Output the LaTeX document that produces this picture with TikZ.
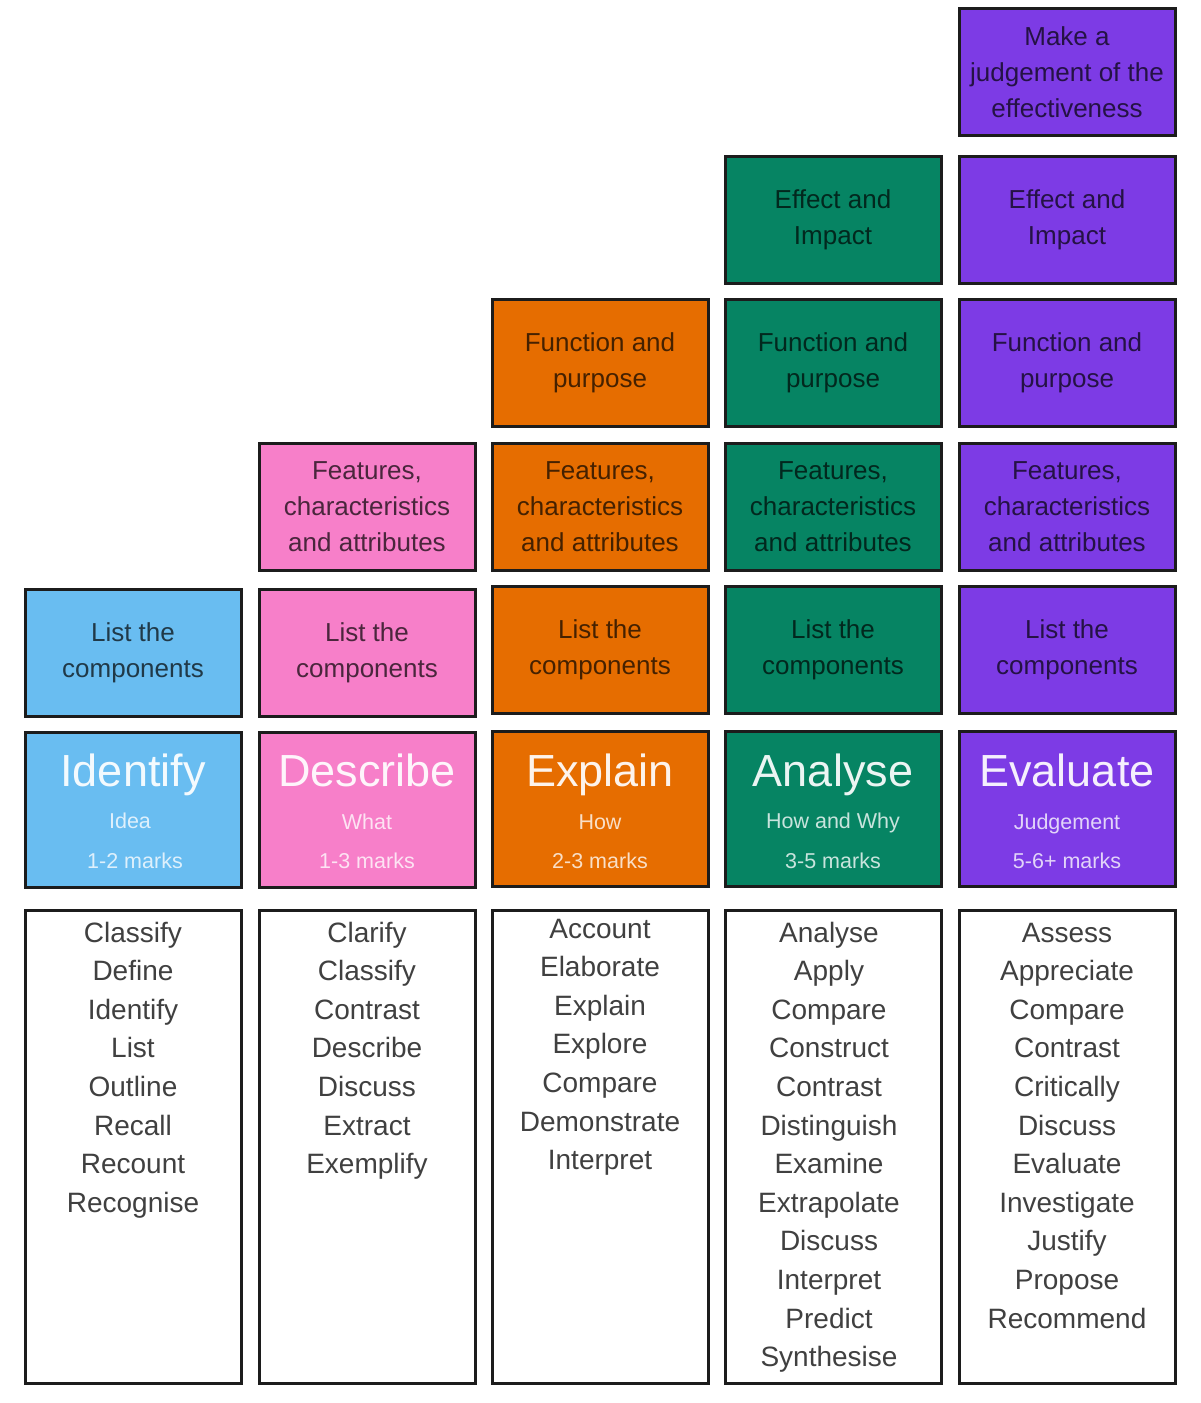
\documentclass[tikz,border=0pt]{standalone}
\usepackage{fontspec}
\setmainfont{Liberation Sans}
\definecolor{cblue}{HTML}{69BDF1}
\definecolor{cpink}{HTML}{F77FC9}
\definecolor{corange}{HTML}{E66D00}
\definecolor{cgreen}{HTML}{068463}
\definecolor{cpurple}{HTML}{7D3BE5}
\definecolor{edgec}{HTML}{1C1C1C}
\definecolor{wordc}{HTML}{404040}
\tikzset{
  cell/.style={draw=edgec, line width=3pt, minimum width=216pt, minimum height=127pt,
    inner sep=0pt, align=center, font=\fontsize{26}{36}\selectfont},
  hdrbox/.style={draw=edgec, line width=3pt, minimum width=216pt, minimum height=155pt, inner sep=0pt},
  listbox/.style={draw=edgec, line width=3pt, fill=white, minimum width=216pt, minimum height=473pt, inner sep=0pt},
  hdrtitle/.style={font=\fontsize{45}{50}\selectfont, anchor=base, inner sep=0pt},
  hdrsub/.style={font=\fontsize{21.5}{24}\selectfont, anchor=base, inner sep=0pt},
  word/.style={font=\fontsize{28}{30}\selectfont, text=wordc, anchor=base, inner sep=0pt},
  blue/.style={fill=cblue, text=black!70!cblue},
  pink/.style={fill=cpink, text=black!70!cpink},
  orange/.style={fill=corange, text=black!70!corange},
  green/.style={fill=cgreen, text=black!70!cgreen},
  purple/.style={fill=cpurple, text=black!70!cpurple},
}
\begin{document}
\begin{tikzpicture}[x=1pt,y=-1pt]
\useasboundingbox[fill=white] (0,0) rectangle (1200,1403);

% column 5 (Evaluate) tower
\node[cell,purple] (e5) at (1067,72) {Make a\\judgement of the\\effectiveness};
\node[cell,purple] (d5) at (1067,219.5) {Effect and\\Impact};
\node[cell,purple] (c5) at (1067,362.5) {Function and\\purpose};
\node[cell,purple] (b5) at (1067,507) {Features,\\characteristics\\and attributes};
\node[cell,purple] (a5) at (1067,650) {List the\\components};

% column 4 (Analyse)
\node[cell,green] (d4) at (833,219.5) {Effect and\\Impact};
\node[cell,green] (c4) at (833,362.5) {Function and\\purpose};
\node[cell,green] (b4) at (833,507) {Features,\\characteristics\\and attributes};
\node[cell,green] (a4) at (833,650) {List the\\components};

% column 3 (Explain)
\node[cell,orange] (c3) at (600,362.5) {Function and\\purpose};
\node[cell,orange] (b3) at (600,507) {Features,\\characteristics\\and attributes};
\node[cell,orange] (a3) at (600,650) {List the\\components};

% column 2 (Describe)
\node[cell,pink] (b2) at (367,507) {Features,\\characteristics\\and attributes};
\node[cell,pink] (a2) at (367,652.5) {List the\\components};

% column 1 (Identify)
\node[cell,blue] (a1) at (133,652.5) {List the\\components};

% header row
\node[hdrbox,fill=cblue] (h1) at (133,810) {};
\node[hdrbox,fill=cpink] (h2) at (367,810) {};
\node[hdrbox,fill=corange] (h3) at (600,809) {};
\node[hdrbox,fill=cgreen] (h4) at (833,809) {};
\node[hdrbox,fill=cpurple] (h5) at (1067,809) {};

\node[hdrtitle,text=white!92!cblue] (t1) at (133,786) {Identify};
\node[hdrtitle,text=white!92!cpink] (t2) at (367,786) {Describe};
\node[hdrtitle,text=white!92!corange] (t3) at (600,786) {Explain};
\node[hdrtitle,text=white!92!cgreen] (t4) at (833,786) {Analyse};
\node[hdrtitle,text=white!92!cpurple] (t5) at (1067,786) {Evaluate};

\node[hdrsub,text=white!78!cblue] (s1) at (130,828) {Idea};
\node[hdrsub,text=white!78!cpink] (s2) at (367,829) {What};
\node[hdrsub,text=white!78!corange] (s3) at (600,829) {How};
\node[hdrsub,text=white!78!cgreen] (s4) at (833,828) {How and Why};
\node[hdrsub,text=white!78!cpurple] (s5) at (1067,829) {Judgement};

\node[hdrsub,text=white!78!cblue] (m1) at (135,868) {1-2 marks};
\node[hdrsub,text=white!78!cpink] (m2) at (367,868) {1-3 marks};
\node[hdrsub,text=white!78!corange] (m3) at (600,868) {2-3 marks};
\node[hdrsub,text=white!78!cgreen] (m4) at (833,868) {3-5 marks};
\node[hdrsub,text=white!78!cpurple] (m5) at (1067,868) {5-6+ marks};

% word list boxes
\node[listbox] (l1) at (133,1147) {};
\node[listbox] (l2) at (367,1147) {};
\node[listbox] (l3) at (600,1147) {};
\node[listbox] (l4) at (833,1147) {};
\node[listbox] (l5) at (1067,1147) {};

\foreach \w [count=\i] in {Classify,Define,Identify,List,Outline,Recall,Recount,Recognise}
  \node[word] (wa-\i) at (133,{942+38.6*(\i-1)}) {\w};
\foreach \w [count=\i] in {Clarify,Classify,Contrast,Describe,Discuss,Extract,Exemplify}
  \node[word] (wb-\i) at (367,{942+38.6*(\i-1)}) {\w};
\foreach \w [count=\i] in {Account,Elaborate,Explain,Explore,Compare,Demonstrate,Interpret}
  \node[word] (wc-\i) at (600,{938+38.6*(\i-1)}) {\w};
\foreach \w [count=\i] in {Analyse,Apply,Compare,Construct,Contrast,Distinguish,Examine,Extrapolate,Discuss,Interpret,Predict,Synthesise}
  \node[word] (wd-\i) at (829,{942+38.6*(\i-1)}) {\w};
\foreach \w [count=\i] in {Assess,Appreciate,Compare,Contrast,Critically,Discuss,Evaluate,Investigate,Justify,Propose,Recommend}
  \node[word] (we-\i) at (1067,{942+38.6*(\i-1)}) {\w};
\end{tikzpicture}
\end{document}
